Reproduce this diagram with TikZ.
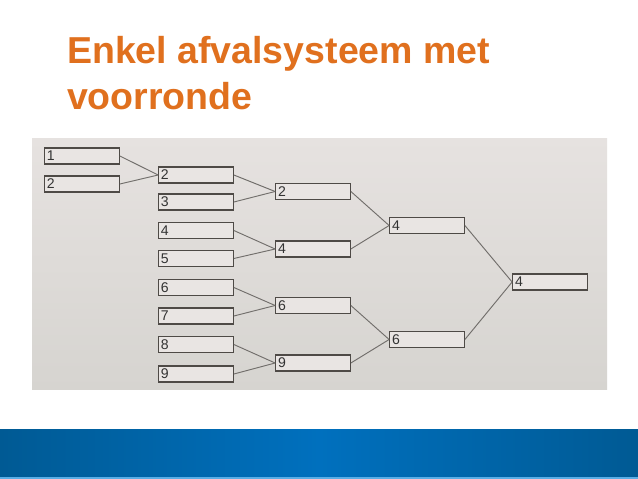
\documentclass[tikz,border=0pt]{standalone}
\usepackage{fontspec}
\setmainfont{Liberation Sans}
\usetikzlibrary{positioning}

\definecolor{titleorange}{HTML}{E0701E}
\definecolor{photogray}{HTML}{E6E2E0}
\definecolor{photodark}{HTML}{D6D4D0}
\definecolor{boxline}{HTML}{4E4A46}
\definecolor{boxfill}{HTML}{E9E5E3}
\definecolor{barblue}{HTML}{0070BE}
\definecolor{bardark}{HTML}{005A94}
\definecolor{barlight}{HTML}{5AAEE6}

\tikzset{
  slot/.style={draw=boxline, fill=boxfill, line width=0.9pt, minimum height=0.48cm,
    text width=2.1cm, inner xsep=2pt, inner ysep=0pt, align=left,
    font=\fontsize{12}{12}\selectfont\color{black!80}},
  feed/.style={draw=boxline!80, line width=0.8pt}
}

\begin{document}
\begin{tikzpicture}[x=0.03cm, y=-0.03cm]
	\useasboundingbox (0,0) rectangle (638,479);
	\fill[white] (0,0) rectangle (638,479);

	% Title
	\node[anchor=base west, align=left, text=titleorange,
	      font=\fontsize{32}{40}\selectfont\bfseries] (title) at (63,110)
	      {Enkel afvalsysteem met\\voorronde};

	% Photo of the bracket
	\shade[top color=photogray, bottom color=photodark] (32,138) rectangle (607,389);

	% Voorronde
	\node[slot] (v1) at (82,156) {1};
	\node[slot] (v2) at (82,184) {2};

	% First round
	\node[slot] (a2) at (196,175) {2};
	\node[slot] (a3) at (196,202) {3};
	\node[slot] (a4) at (196,230.5) {4};
	\node[slot] (a5) at (196,258.5) {5};
	\node[slot] (a6) at (196,287.5) {6};
	\node[slot] (a7) at (196,316) {7};
	\node[slot] (a8) at (196,344.5) {8};
	\node[slot] (a9) at (196,374) {9};

	% Quarter finals
	\node[slot] (b2) at (313,191.5) {2};
	\node[slot] (b4) at (313,249) {4};
	\node[slot] (b6) at (313,305.5) {6};
	\node[slot] (b9) at (313,363) {9};

	% Semi finals
	\node[slot] (c4) at (427,225.5) {4};
	\node[slot] (c6) at (427,339.5) {6};

	% Final
	\node[slot] (d4) at (550,282) {4};

	% Connectors
	\draw[feed] (v1.east) -- (a2.west);
	\draw[feed] (v2.east) -- (a2.west);
	\draw[feed] (a2.east) -- (b2.west);
	\draw[feed] (a3.east) -- (b2.west);
	\draw[feed] (a4.east) -- (b4.west);
	\draw[feed] (a5.east) -- (b4.west);
	\draw[feed] (a6.east) -- (b6.west);
	\draw[feed] (a7.east) -- (b6.west);
	\draw[feed] (a8.east) -- (b9.west);
	\draw[feed] (a9.east) -- (b9.west);
	\draw[feed] (b2.east) -- (c4.west);
	\draw[feed] (b4.east) -- (c4.west);
	\draw[feed] (b6.east) -- (c6.west);
	\draw[feed] (b9.east) -- (c6.west);
	\draw[feed] (c4.east) -- (d4.west);
	\draw[feed] (c6.east) -- (d4.west);

	% Blue footer bar
	\shade[left color=bardark, right color=bardark, middle color=barblue] (0,429) rectangle (638,479);
	\fill[barlight] (0,477) rectangle (638,479);
\end{tikzpicture}
\end{document}
